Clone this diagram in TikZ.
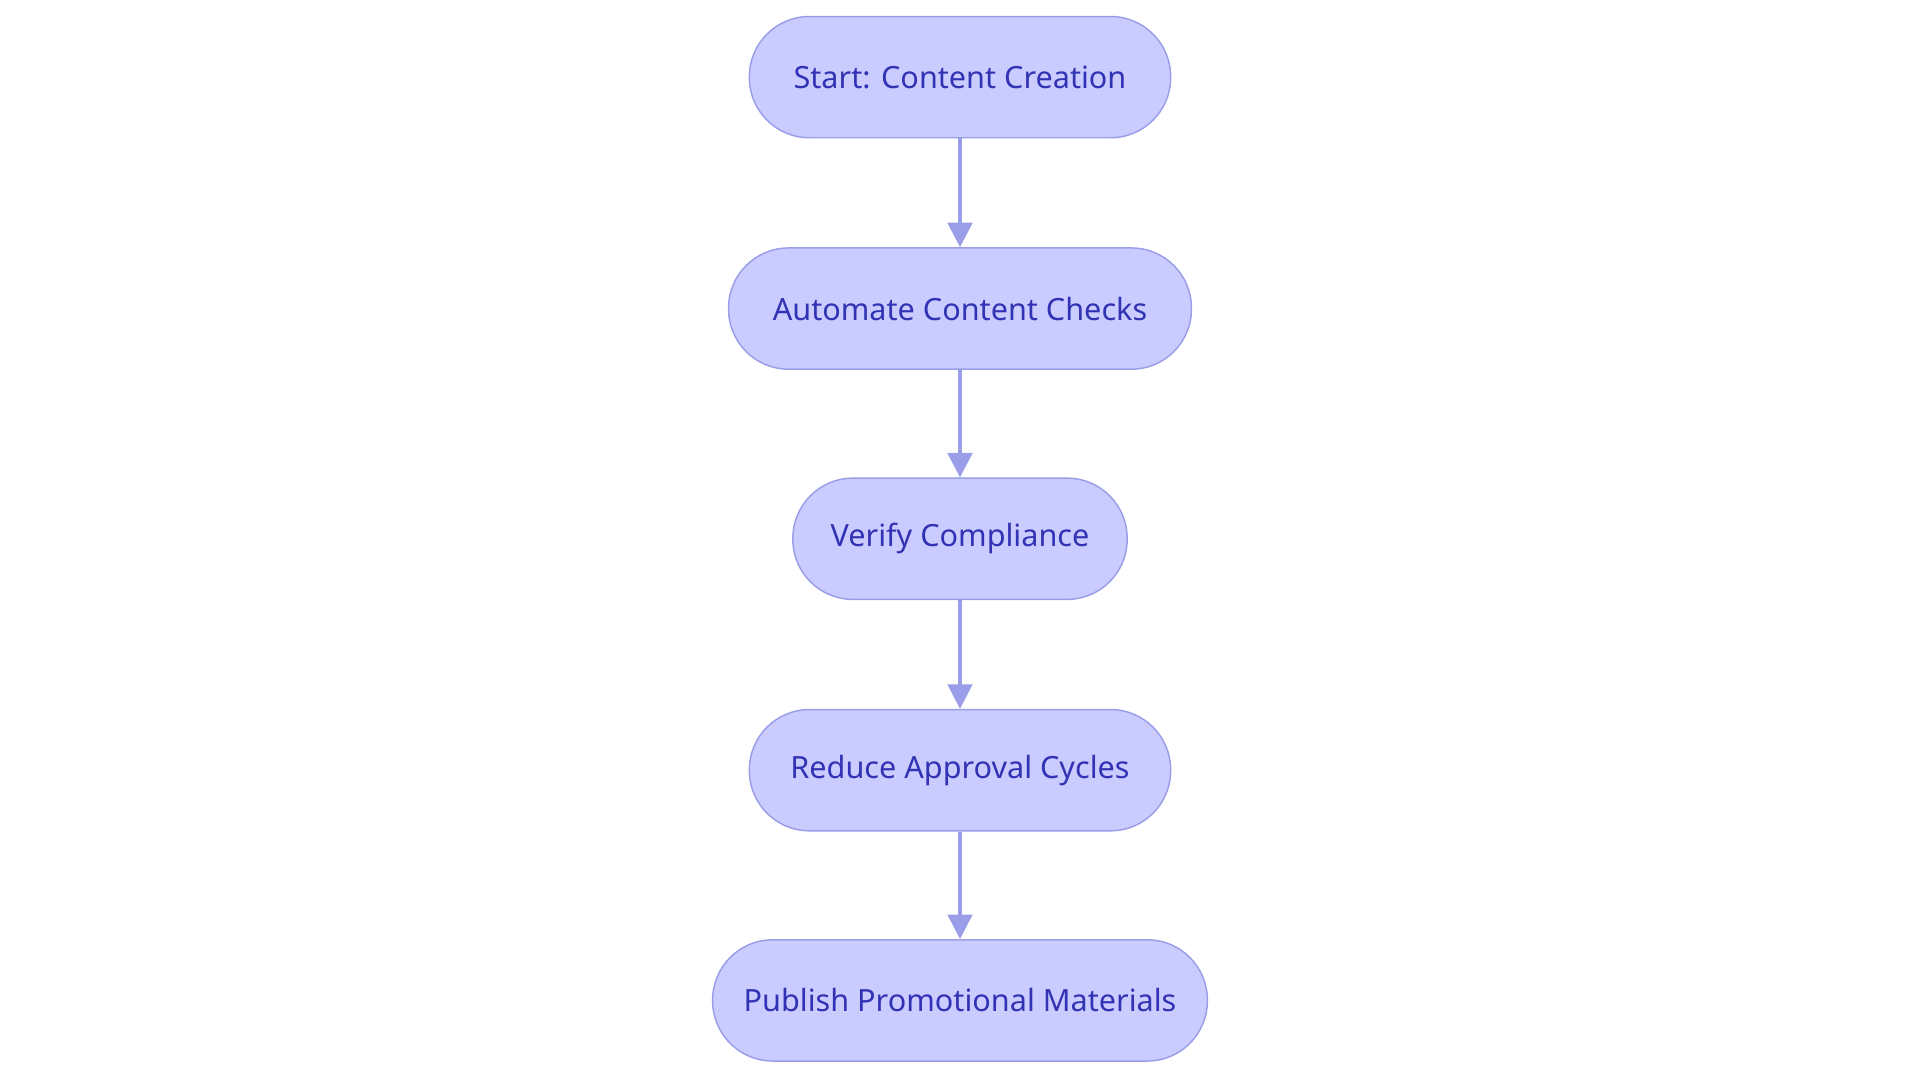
\documentclass[tikz,border=0pt]{standalone}
\usepackage{fontspec}
\setmainfont{Noto Sans}
\usetikzlibrary{arrows.meta}
\definecolor{boxfill}{HTML}{CACCFF}
\definecolor{boxline}{HTML}{9A9EE8}
\definecolor{txt}{HTML}{3232B4}
\begin{document}
\begin{tikzpicture}[x=0.5pt,y=0.5pt,
  box/.style={draw=boxline,fill=boxfill,line width=0.6pt,rounded corners=24.5pt,minimum height=49.5pt,text=txt,font=\fontsize{12.5}{14}\selectfont,inner sep=0pt},
  arr/.style={draw=boxline,line width=1.4pt,-{Triangle[length=10pt,width=10pt]}}]
\useasboundingbox (0,0) rectangle (1568,884);
\node[box,minimum width=172pt] (a) at (784,821) {Start: Content Creation};
\node[box,minimum width=189pt] (b) at (784,632) {Automate Content Checks};
\node[box,minimum width=136.5pt] (c) at (784,444) {Verify Compliance};
\node[box,minimum width=172pt] (d) at (784,255) {Reduce Approval Cycles};
\node[box,minimum width=202pt] (e) at (784,67) {Publish Promotional Materials};
\draw[arr] (a) -- (b);
\draw[arr] (b) -- (c);
\draw[arr] (c) -- (d);
\draw[arr] (d) -- (e);
\end{tikzpicture}
\end{document}
